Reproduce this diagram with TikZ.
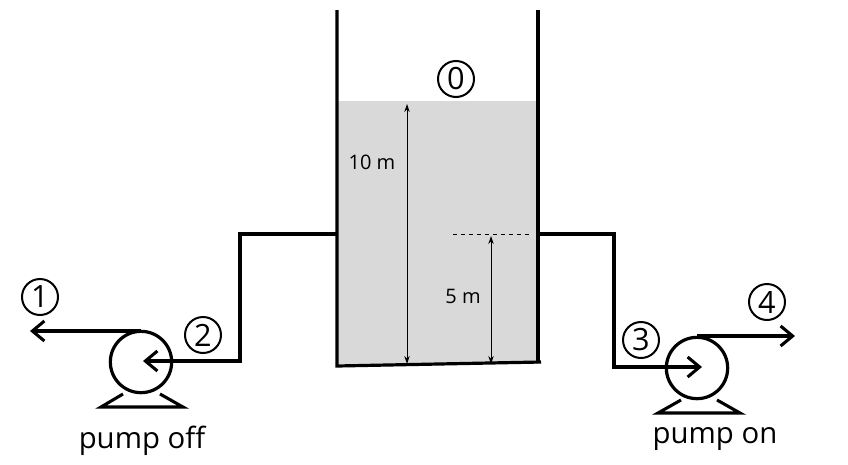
\documentclass[tikz,border=0pt]{standalone}
\usepackage{fontspec}
\setmainfont{Open Sans}
\usetikzlibrary{arrows.meta}
\begin{document}
\begin{tikzpicture}[x=0.75pt,y=-0.75pt,
  wall/.style={line width=2.4pt},
  pipe/.style={line width=2.3pt},
  flow/.style={line width=2.3pt,-{Straight Barb[length=9pt,width=15pt,line width=2.3pt]}},
  dim/.style={line width=0.7pt,{Stealth[length=6pt,width=4pt]}-{Stealth[length=6pt,width=4pt]}},
  num/.style={circle,draw,line width=1.5pt,inner sep=0pt,minimum size=27pt,font=\fontsize{23}{23}\selectfont},
  lbl/.style={font=\fontsize{15}{15}\selectfont},
  pumpcap/.style={font=\fontsize{22}{22}\selectfont}]
\useasboundingbox (0,0) rectangle (848,464);
% water
\fill[gray!30] (337,101) rectangle (538,364);
% tank
\draw[wall] (337,10) -- (337,366) -- (541,362);
\draw[wall] (538,10) -- (538,362);
% pipes
\coordinate (tl) at (337,234);
\coordinate (tr) at (538,234);
\coordinate (lb) at (240,234);
\coordinate (lc) at (240,361);
\coordinate (rb) at (614,234);
\coordinate (rc) at (614,367);
\draw[pipe] (tl) -- (lb) -- (lc) -- (172,361);
\draw[pipe] (tr) -- (rb) -- (rc) -- (668,367);
% left pump
\node[circle,draw,line width=2.4pt,minimum size=46pt,inner sep=0] (p1) at (141,362) {};
\coordinate (p1in) at (172,361);
\coordinate (p1tip) at (143,361);
\draw[flow] (p1in) -- (p1tip);
\coordinate (p1o) at (141,331);
\coordinate (o1) at (30,331);
\draw[flow] (p1o) -- (o1);
\draw[line width=2.3pt] (123,394) -- (101,407) -- (183,407) -- (160,394);
% right pump
\node[circle,draw,line width=2.4pt,minimum size=46pt,inner sep=0] (p2) at (697,368) {};
\coordinate (p2in) at (668,367);
\coordinate (p2tip) at (702,367);
\draw[flow] (p2in) -- (p2tip);
\coordinate (p2o) at (697,336);
\coordinate (o4) at (795,336);
\draw[flow] (p2o) -- (o4);
\draw[line width=2.3pt] (681,400) -- (658,413) -- (740,413) -- (717,400);
% dims
\coordinate (d1a) at (407,104); \coordinate (d1b) at (407,364);
\coordinate (d2a) at (491,236); \coordinate (d2b) at (491,364);
\draw[dim] (d1a) -- (d1b);
\draw[dim] (d2a) -- (d2b);
\draw[dashed,line width=0.7pt] (453,234) -- (530,234);
\node[lbl] (l10) at (372,162) {10 m};
\node[lbl] (l5) at (463,296) {5 m};
% numbers
\node[num] (n0) at (456,79) {0};
\node[num] (n1) at (40,297) {1};
\node[num] (n2) at (203,335) {2};
\node[num] (n3) at (641,340) {3};
\node[num] (n4) at (767,302) {4};
\node[pumpcap] (c1) at (142,441) {pump off};
\node[pumpcap] (c2) at (715,439) {pump on};
\end{tikzpicture}
\end{document}
